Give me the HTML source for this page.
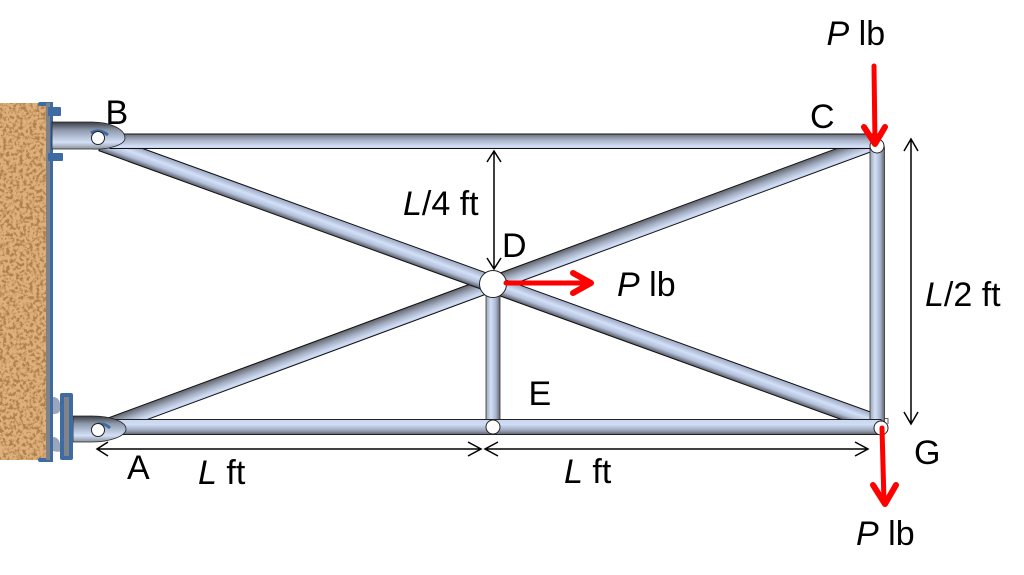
<!DOCTYPE html>
<html><head><meta charset="utf-8"><style>
html,body{margin:0;padding:0;background:#fff;width:1024px;height:575px;overflow:hidden}
svg{display:block}
text{font-family:"Liberation Sans",sans-serif;font-size:34px;fill:#000}
</style></head><body>
<svg width="1024" height="575" viewBox="0 0 1024 575" xmlns="http://www.w3.org/2000/svg">
<defs>
<linearGradient id="top" x1="0" y1="0" x2="0" y2="1">
<stop offset="0" stop-color="#6a6d75"/><stop offset=".4" stop-color="#a6b0c6"/><stop offset=".85" stop-color="#d3e0f8"/><stop offset="1" stop-color="#c5d2ea"/></linearGradient>
<linearGradient id="bot" x1="0" y1="0" x2="0" y2="1">
<stop offset="0" stop-color="#c9d7f0"/><stop offset=".35" stop-color="#cfdcf4"/><stop offset=".75" stop-color="#98a2b6"/><stop offset="1" stop-color="#5d6068"/></linearGradient>
<linearGradient id="d1" x1="0" y1="0" x2="0" y2="1">
<stop offset="0" stop-color="#9aa6bf"/><stop offset=".4" stop-color="#d3e0f8"/><stop offset=".7" stop-color="#b3c0da"/><stop offset="1" stop-color="#55585f"/></linearGradient>
<linearGradient id="d2" x1="0" y1="0" x2="0" y2="1">
<stop offset="0" stop-color="#5f6269"/><stop offset=".45" stop-color="#a2acc0"/><stop offset=".85" stop-color="#d0ddf5"/><stop offset="1" stop-color="#c2cfe8"/></linearGradient>
<linearGradient id="v" x1="0" y1="0" x2="1" y2="0">
<stop offset="0" stop-color="#9aa3b5"/><stop offset=".35" stop-color="#d3e0f8"/><stop offset=".7" stop-color="#a9b5ce"/><stop offset="1" stop-color="#63666e"/></linearGradient>
<linearGradient id="c" x1="0" y1="0" x2="0" y2="1">
<stop offset="0" stop-color="#3a3c42"/><stop offset=".3" stop-color="#8f99ad"/><stop offset=".75" stop-color="#d3e0f7"/><stop offset="1" stop-color="#8b919c"/></linearGradient>
<filter id="sand" x="0" y="0" width="100%" height="100%">
<feTurbulence type="fractalNoise" baseFrequency=".3" numOctaves="3" seed="4"/>
<feColorMatrix type="matrix" values="0 0 0 0 .42  0 0 0 0 .22  0 0 0 0 .07  5 0 0 0 -2.250"/>
<feComposite in2="SourceGraphic" operator="in"/>
<feMerge><feMergeNode in="SourceGraphic"/><feMergeNode/></feMerge>
</filter>
</defs>

<!-- wall -->
<rect x="0" y="103" width="46" height="357" fill="#dfaf7c" filter="url(#sand)"/>
<rect x="38" y="102" width="15" height="4" rx="2" fill="#3f6ba3"/>
<rect x="38" y="458" width="15" height="4" rx="2" fill="#3f6ba3"/>
<rect x="46" y="103" width="4" height="357" fill="#7f8288"/>
<rect x="50" y="102" width="3" height="360" fill="#3f6ba3"/>
<rect x="48" y="107" width="13" height="9" rx="1" fill="#3f6ba3"/>
<rect x="48" y="153" width="15" height="8" rx="1" fill="#3f6ba3"/>

<!-- diagonals -->
<g transform="translate(492 284) rotate(-20.3)">
<rect x="-415" y="-7.500" width="825" height="15" fill="url(#d2)" stroke="#111" stroke-width="1"/>
</g>
<g transform="translate(492 284) rotate(19.9)">
<rect x="-415" y="-8.500" width="825" height="17" fill="url(#d1)" stroke="#111" stroke-width="1"/>
</g>

<!-- members -->
<rect x="486" y="290" width="14" height="131" fill="url(#v)" stroke="#333" stroke-width=".8"/>
<rect x="870" y="147" width="14.500" height="274" fill="url(#v)" stroke="#333" stroke-width=".8"/>
<path d="M884 418.500H888V424" fill="none" stroke="#333" stroke-width=".8"/>
<rect x="110" y="134" width="767" height="14.500" fill="url(#top)" stroke="#111" stroke-width="1"/>
<rect x="110" y="419.500" width="771" height="15" fill="url(#bot)" stroke="#222" stroke-width="1"/>

<!-- clevises -->
<path d="M52 122H92C112 122 125 130 125 138C125 145 108 150 92 149H52Z" fill="url(#c)" stroke="#222" stroke-width=".8"/>
<path d="M53 397C57 397 60 400 60 404V410C60 413 57 414 53 414Z" fill="#9aa6bc"/>
<path d="M53 437C57 437 60 440 60 445V451C60 452 57 452 53 451Z" fill="#9aa6bc"/>
<path d="M73 416H92C112 416 126 422 126 429C126 436 110 442 92 442H73Z" fill="url(#c)" stroke="#222" stroke-width=".8"/>
<rect x="60" y="393" width="13" height="67" rx="2" fill="#3f6ba3"/>
<rect x="64" y="397" width="5" height="59" fill="#808388"/>
<path d="M91 133Q99 128 108 135" fill="none" stroke="#3f6ba3" stroke-width="3"/>
<path d="M98 424Q105 423 110 428" fill="none" stroke="#3f6ba3" stroke-width="3"/>

<!-- pins -->
<g fill="#fff" stroke="#222" stroke-width="1">
<circle cx="98" cy="138" r="6.500"/>
<circle cx="98" cy="430" r="6.500"/>
<circle cx="877" cy="146" r="7"/>
<circle cx="881" cy="428" r="7"/>
<circle cx="493" cy="427" r="7"/>
<circle cx="493" cy="284" r="13.500"/>
</g>

<!-- dimensions -->
<g fill="none" stroke="#000" stroke-width="1.500">
<path d="M494 151V269M487 162L494 151L501 162M487 258L494 269L501 258"/>
<path d="M911 139V424M904 151L911 139L918 151M904 412L911 424L918 412"/>
<path d="M97 449H481M108 442L97 449L108 456M468 442L481 449L468 456"/>
<path d="M485 449H868M498 442L485 449L498 456M855 442L868 449L855 456"/>
</g>

<!-- loads -->
<g fill="none" stroke="#fe0000" stroke-linecap="round" stroke-linejoin="round">
<path d="M874 66L875 142" stroke-width="5"/>
<path d="M864 127L875 144L885 127" stroke-width="6"/>
<path d="M506 283H590" stroke-width="5"/>
<path d="M573 273L591 283L573 293" stroke-width="6"/>
<path d="M882 428L884 502" stroke-width="5"/>
<path d="M873 485L885 504L896 485" stroke-width="6"/>
</g>

<!-- labels -->
<text x="105.500" y="124">B</text>
<text x="810" y="128">C</text>
<text x="502" y="257">D</text>
<text x="528.500" y="405">E</text>
<text x="914" y="464">G</text>
<text x="127" y="479">A</text>
<text x="826.500" y="45"><tspan font-style="italic">P</tspan> lb</text>
<text x="617" y="296"><tspan font-style="italic">P</tspan> lb</text>
<text x="856" y="545"><tspan font-style="italic">P</tspan> lb</text>
<text x="403" y="215"><tspan font-style="italic">L</tspan>/4 ft</text>
<text x="925" y="306"><tspan font-style="italic">L</tspan>/2 ft</text>
<text x="198" y="484"><tspan font-style="italic">L</tspan> ft</text>
<text x="564" y="483"><tspan font-style="italic">L</tspan> ft</text>
</svg>
</body></html>
